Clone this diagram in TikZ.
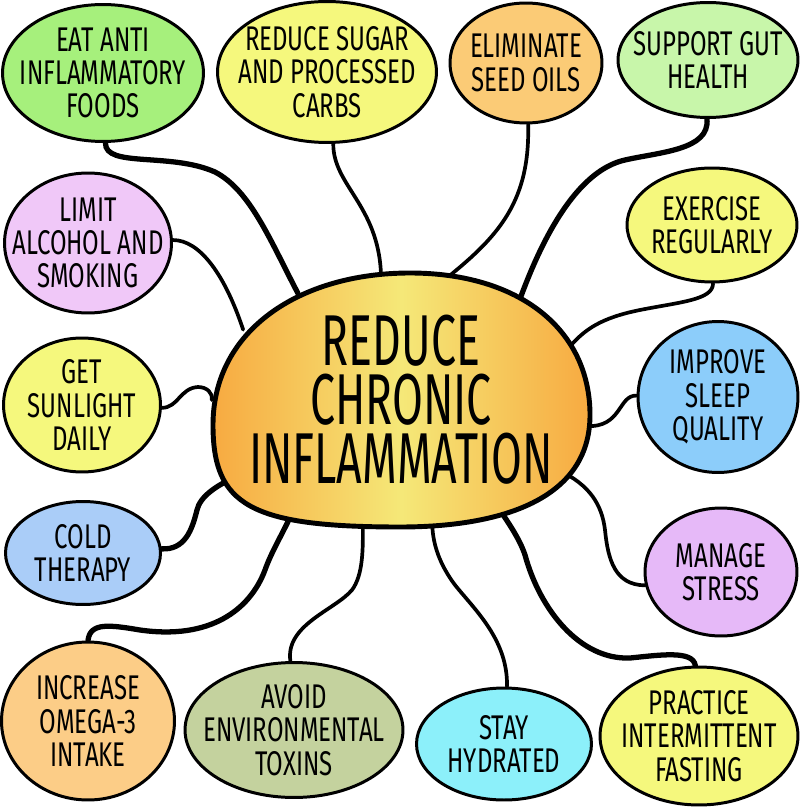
\documentclass[tikz,border=0pt]{standalone}
\usepackage{fontspec}
\newfontfamily\handfont[FakeStretch=0.7]{Fira Sans}
\newfontfamily\hubfont[FakeStretch=0.62]{Fira Sans}
\definecolor{fdgreen}{RGB}{166,240,124}
\definecolor{fdyellow}{RGB}{245,248,125}
\definecolor{fdorange}{RGB}{251,203,118}
\definecolor{fdmint}{RGB}{200,246,170}
\definecolor{fdpink}{RGB}{240,200,248}
\definecolor{fdsky}{RGB}{140,205,250}
\definecolor{fdblue}{RGB}{170,205,248}
\definecolor{fdlilac}{RGB}{230,185,248}
\definecolor{fdpeach}{RGB}{252,205,135}
\definecolor{fdsage}{RGB}{196,210,158}
\definecolor{fdcyan}{RGB}{140,240,250}
\definecolor{fdhubor}{RGB}{247,170,65}
\definecolor{fdhubye}{RGB}{245,232,120}
\usetikzlibrary{shapes.geometric,backgrounds}
\tikzset{
  leaf/.style={draw, ellipse, line width=1.7pt, fill=#1, inner sep=-30pt,
               font=\handfont\fontsize{19.5}{19}\selectfont, align=center},
  hub/.style={ellipse, inner sep=-60pt, minimum width=7.56cm, minimum height=5.08cm,
              font=\hubfont\fontsize{41}{33.5}\selectfont, align=center},
  blob/.style={draw, line width=2.8pt, left color=fdhubor, right color=fdhubor,
               middle color=fdhubye},
  link/.style={draw, line width=2.1pt, line cap=round},
  boldlink/.style={link, line width=3pt},
}

\begin{document}
\begin{tikzpicture}[x=0.02cm, y=-0.02cm]
\useasboundingbox (0,0) rectangle (800,807);

% Centre blob
\shadedraw[blob] (213,425) .. controls (213,330) and (300,273) .. (410,273)
  .. controls (520,273) and (590,330) .. (590,415)
  .. controls (590,500) and (500,527) .. (400,527)
  .. controls (250,527) and (213,505) .. (213,425) -- cycle;
\node[hub] (hub) at (401,400) {REDUCE\\CHRONIC\\INFLAMMATION};

% Top row
\node[leaf=fdgreen, minimum width=4.02cm, minimum height=2.74cm]
      (eat) at (103,73) {EAT ANTI\\INFLAMMATORY\\FOODS};
\node[leaf=fdyellow, minimum width=4.38cm, minimum height=2.82cm]
      (sugar) at (327,72) {REDUCE SUGAR\\AND PROCESSED\\CARBS};
\node[leaf=fdorange, minimum width=3.04cm, minimum height=2.4cm]
      (seed) at (526,63) {ELIMINATE\\SEED OILS};
\node[leaf=fdmint, minimum width=3.6cm, minimum height=2.3cm]
      (gut) at (708,60) {SUPPORT GUT\\HEALTH};

% Left column
\node[leaf=fdpink, minimum width=3.34cm, minimum height=2.8cm]
      (limit) at (88,243) {LIMIT\\ALCOHOL AND\\SMOKING};
\node[leaf=fdyellow, minimum width=3.14cm, minimum height=2.68cm]
      (sun) at (82,405) {GET\\SUNLIGHT\\DAILY};
\node[leaf=fdblue, minimum width=3.1cm, minimum height=2.06cm]
      (cold) at (83,553) {COLD\\THERAPY};

% Right column
\node[leaf=fdyellow, minimum width=3.4cm, minimum height=2.28cm]
      (exercise) at (712,225) {EXERCISE\\REGULARLY};
\node[leaf=fdsky, minimum width=3.2cm, minimum height=3.02cm]
      (sleep) at (718,397) {IMPROVE\\SLEEP\\QUALITY};
\node[leaf=fdlilac, minimum width=3.04cm, minimum height=2.56cm]
      (stress) at (721,572) {MANAGE\\STRESS};

% Bottom row
\node[leaf=fdpeach, minimum width=3.46cm, minimum height=3.16cm]
      (omega) at (88,721) {INCREASE\\OMEGA-3\\INTAKE};
\node[leaf=fdsage, minimum width=4.36cm, minimum height=2.7cm]
      (toxins) at (294,730) {AVOID\\ENVIRONMENTAL\\TOXINS};
\node[leaf=fdcyan, minimum width=3.5cm, minimum height=2.24cm]
      (hydrated) at (504,744) {STAY\\HYDRATED};
\node[leaf=fdyellow, minimum width=3.96cm, minimum height=2.76cm]
      (fasting) at (699,736) {PRACTICE\\INTERMITTENT\\FASTING};

% Links
\begin{pgfonlayer}{background}
\draw[boldlink] (eat.272) .. controls (105,168) and (170,152) .. (215,172)
  .. controls (250,190) and (270,240) .. (hub.134);
\draw[link] (sugar.275) .. controls (333,185) and (378,205) .. (hub.99);
\draw[link] (seed.272) .. controls (530,200) and (500,235) .. (hub.69);
\draw[boldlink] (gut.269) .. controls (710,150) and (660,152) .. (625,160)
  .. controls (580,170) and (545,230) .. (hub.40);
\draw[link] (exercise.271) .. controls (713,300) and (680,302) .. (640,310)
  .. controls (600,318) and (585,330) .. (hub.18);
\draw[link] (limit.2) .. controls (200,240) and (225,275) .. (hub.156);
\draw[link] (sun.358) .. controls (178,408) and (180,388) .. (198,387)
  .. controls (207,387) and (213,393) .. (hub.180);
\draw[boldlink] (cold.3) .. controls (185,550) and (192,530) .. (197,510)
  .. controls (200,497) and (215,485) .. (hub.205);
\draw[link] (sleep.179) .. controls (618,395) and (622,428) .. (hub.-8);
\draw[link] (stress.190) .. controls (615,585) and (608,560) .. (605,530)
  .. controls (602,505) and (590,485) .. (hub.-24);
\draw[boldlink] (omega.90) .. controls (90,622) and (110,625) .. (140,630)
  .. controls (210,640) and (250,610) .. (265,570)
  .. controls (272,550) and (285,530) .. (hub.225);
\draw[link] (toxins.93) .. controls (285,625) and (335,610) .. (352,590)
  .. controls (363,575) and (363,550) .. (hub.253);
\draw[link] (hydrated.87) .. controls (508,640) and (475,610) .. (455,585)
  .. controls (440,565) and (433,545) .. (hub.284);
\draw[boldlink] (fasting.93) .. controls (693,650) and (660,655) .. (630,658)
  .. controls (580,660) and (540,610) .. (525,555)
  .. controls (520,540) and (510,525) .. (hub.-48);
\end{pgfonlayer}

\end{tikzpicture}
\end{document}
